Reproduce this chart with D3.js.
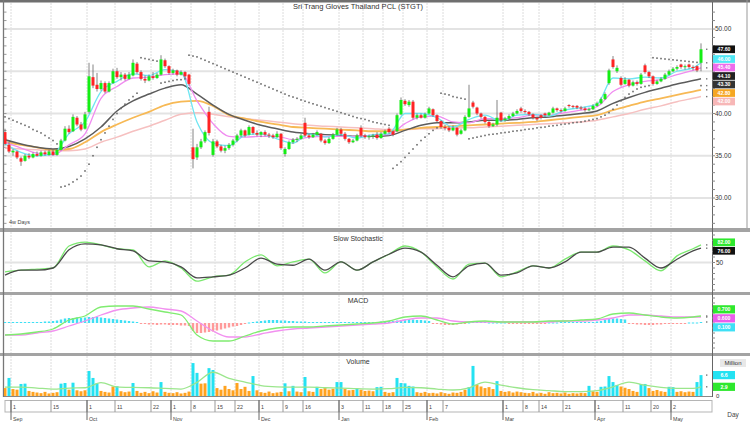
<!DOCTYPE html>
<html><head><meta charset="utf-8">
<script src="https://cdn.jsdelivr.net/npm/d3@7"></script>
<style>
html,body{margin:0;padding:0;background:#fff;}
svg{display:block;font-family:"Liberation Sans",Arial,sans-serif;}
</style></head><body>
<svg id="c" width="750" height="422"></svg>
<script>
const title = "Sri Trang Gloves Thailand PCL (STGT)";
const legendNote = "4w Days";

const open = [37.8,36.3,35.4,35.5,34.7,34.4,35.0,34.8,35.2,35.0,
35.4,35.1,35.5,35.1,35.7,36.8,38.2,37.9,39.5,38.7,
38.2,40.2,44.3,43.4,42.9,43.6,42.6,43.6,45.0,44.3,
44.6,44.1,44.5,45.9,44.9,44.1,43.9,44.4,44.2,44.6,
46.3,45.6,44.8,45.1,44.6,44.9,44.6,36.0,34.8,36.0,
36.7,40.2,35.1,36.7,36.1,35.6,35.9,36.3,36.8,37.4,
38.0,37.5,38.4,37.7,37.5,37.8,37.5,37.4,37.2,37.6,
35.2,35.8,36.6,36.9,37.0,38.9,37.4,37.2,37.5,37.6,
36.8,36.5,37.0,37.5,38.1,37.6,37.0,36.6,36.8,38.3,
37.4,37.2,37.3,37.5,37.1,37.6,38.2,37.9,37.9,39.9,
41.5,41.0,41.4,39.5,39.8,39.5,40.0,40.5,39.8,39.1,
38.4,38.3,38.0,38.3,37.6,38.0,39.6,41.3,40.7,40.0,
39.6,39.0,38.5,38.7,40.1,39.2,39.4,39.7,40.0,40.6,
40.3,40.2,39.9,39.5,39.8,40.0,39.8,40.1,40.6,40.4,
40.3,41.0,40.9,40.9,40.7,40.6,40.4,40.5,40.9,41.2,
41.7,43.6,46.4,45.0,44.2,43.5,44.0,43.3,43.7,43.5,
45.7,44.9,44.4,43.5,43.8,44.1,44.6,45.0,45.3,45.8,
45.5,45.8,45.5,45.6,46.0];
const high = [38.2,36.6,35.8,35.6,34.9,35.2,35.3,35.4,35.5,35.6,
35.6,35.7,35.7,35.9,37.0,38.5,38.6,39.9,39.7,39.0,
40.2,46.0,45.8,44.8,43.9,43.8,43.8,45.3,45.4,44.9,
44.8,44.9,46.4,46.1,45.1,44.5,44.6,44.9,44.8,46.9,
46.5,45.7,45.3,45.2,45.1,45.0,44.7,38.2,36.4,37.0,
38.0,40.8,37.0,36.9,36.3,36.2,36.5,37.0,37.6,38.2,
38.1,38.6,38.5,38.0,37.9,38.0,37.7,37.6,37.9,37.7,
36.0,36.8,37.1,37.2,37.6,39.5,37.6,37.7,38.0,37.7,
37.0,37.2,37.7,38.3,38.3,37.8,37.1,37.0,37.6,38.6,
37.6,37.5,37.6,37.8,37.8,38.1,38.4,38.0,40.0,41.9,
41.7,41.6,41.6,40.0,40.0,40.1,40.8,40.6,39.9,39.2,
38.7,38.5,38.6,38.4,38.2,39.8,43.4,41.5,40.8,40.1,
39.7,39.1,38.9,41.6,40.2,39.6,39.9,40.2,40.5,40.8,
40.5,40.3,40.0,39.6,39.9,40.1,40.2,40.8,40.7,40.6,
40.8,41.1,41.0,41.0,40.9,40.8,40.7,41.1,41.4,41.9,
42.5,45.3,46.8,45.7,44.4,44.3,44.1,43.9,43.9,44.8,
45.9,45.0,44.5,44.0,44.3,44.8,45.2,45.5,45.7,45.9,
45.8,45.9,45.7,45.7,48.3];
const low = [36.2,35.3,35.0,34.6,33.8,34.3,34.6,34.7,34.9,34.9,
35.0,35.0,35.0,35.0,35.6,36.7,37.6,37.8,38.5,37.9,
38.1,40.0,43.0,42.6,42.7,42.4,42.5,43.5,44.1,43.9,
43.9,44.0,44.4,44.7,43.9,43.6,43.8,44.0,44.1,44.5,
45.4,44.6,44.6,44.4,44.5,44.2,43.3,33.5,34.5,35.8,
36.5,37.4,34.9,35.9,35.4,35.3,35.7,36.1,36.6,37.2,
37.2,37.4,37.5,37.3,37.2,37.3,37.1,37.0,37.1,35.7,
34.9,35.7,36.4,36.6,36.9,37.2,37.0,37.1,37.4,36.6,
36.3,36.4,36.9,37.4,37.4,36.8,36.4,36.5,36.7,37.2,
37.0,36.9,37.0,36.9,37.0,37.5,37.6,37.3,37.8,39.8,
40.9,40.8,39.3,39.3,39.4,39.4,39.9,39.6,38.9,38.2,
38.0,37.8,37.9,37.3,37.5,37.9,39.5,40.6,39.8,39.4,
38.8,38.3,38.4,38.5,39.0,39.0,39.3,39.6,39.9,40.1,
40.0,39.7,39.3,39.1,39.3,39.6,39.7,40.0,40.2,40.1,
40.2,40.7,40.6,40.5,40.4,40.2,40.3,40.4,40.8,41.1,
41.6,43.4,45.3,44.8,43.2,43.4,43.1,43.2,43.3,43.4,
44.7,44.2,43.3,43.4,43.7,44.0,44.5,44.9,45.1,45.3,
45.2,45.3,45.1,44.9,45.0];
const close = [36.4,35.5,35.6,34.8,34.3,35.0,34.8,35.2,35.0,35.4,
35.2,35.5,35.1,35.7,36.8,38.2,37.8,39.6,38.7,38.1,
39.9,44.4,43.3,42.9,43.6,42.6,43.6,45.0,44.3,44.6,
44.1,44.6,46.0,44.9,44.1,43.9,44.4,44.2,44.6,46.4,
45.6,44.8,45.1,44.6,44.9,44.4,43.5,34.6,36.0,36.7,
37.8,37.7,36.7,36.1,35.6,35.9,36.3,36.8,37.4,38.0,
37.4,38.4,37.7,37.5,37.8,37.5,37.4,37.2,37.6,35.9,
35.8,36.6,36.9,37.0,37.4,37.4,37.2,37.5,37.8,36.8,
36.5,37.0,37.5,38.1,37.6,37.0,36.6,36.8,37.4,37.4,
37.2,37.3,37.4,37.1,37.6,37.9,37.8,37.5,39.8,41.6,
41.1,41.4,39.5,39.8,39.5,39.9,40.6,39.8,39.1,38.4,
38.3,38.0,38.3,37.5,38.0,39.6,40.6,40.8,40.0,39.6,
39.0,38.5,38.7,39.5,39.2,39.4,39.7,40.0,40.3,40.3,
40.2,39.9,39.5,39.3,39.5,39.8,40.1,40.6,40.4,40.3,
40.6,40.9,40.8,40.7,40.6,40.4,40.5,40.9,41.2,41.7,
42.3,45.1,45.5,45.4,43.4,44.0,43.3,43.7,43.5,44.6,
44.9,44.4,43.5,43.8,44.1,44.6,45.0,45.3,45.5,45.5,
45.6,45.5,45.4,45.1,47.6];
const volume = [2.5,5.7,2.2,2.0,3.8,3.9,1.6,1.3,1.1,0.9,
1.3,0.8,1.0,1.2,3.9,4.1,2.0,4.2,1.8,1.5,
1.8,7.9,5.7,4.0,1.6,1.3,1.1,3.0,3.1,1.5,
1.2,1.4,4.1,1.6,1.0,1.3,0.9,1.5,1.1,4.4,
1.3,1.0,0.9,1.2,0.8,1.0,1.4,10.4,7.3,3.9,
4.0,8.8,8.2,2.5,2.0,3.2,2.2,1.8,4.1,2.2,
2.9,1.6,6.3,1.8,1.2,1.0,1.4,0.9,1.1,1.3,
4.0,1.5,3.2,1.4,1.2,6.0,1.5,1.3,2.9,2.2,
2.5,2.0,2.3,4.4,4.4,2.2,1.8,1.9,2.4,2.0,
1.6,1.7,1.5,2.8,2.9,1.3,1.0,1.2,5.7,4.1,
4.0,3.2,3.0,1.2,1.0,1.3,0.9,1.0,0.8,1.2,
0.9,0.7,1.1,1.0,1.3,2.0,2.8,9.5,3.5,3.0,
2.5,2.8,2.2,4.7,1.6,1.3,1.5,1.1,1.4,1.2,
1.0,0.9,1.3,0.8,1.0,0.7,1.2,0.9,1.0,0.8,
1.1,0.7,0.9,0.8,1.0,0.9,3.2,1.5,1.3,2.9,
3.0,6.3,4.4,3.5,3.0,2.6,2.2,1.6,1.3,3.8,
3.8,2.5,1.6,1.9,1.5,1.3,2.9,2.8,1.3,1.5,
1.2,1.4,1.3,4.4,6.6];
// Parabolic SAR, one dot per bar
const sar = [39.6,39.4,39.2,39.0,38.8,38.6,38.4,38.1,37.9,37.7,37.4,37.1,36.8,36.4,
31.3,31.4,31.6,31.9,32.2,32.6,33.2,34.0,35.0,36.0,36.9,37.7,38.5,39.3,40.0,40.6,41.1,41.6,42.0,42.4,
46.6,46.5,46.4,46.3,46.2,
43.6,43.7,43.8,43.9,44.0,44.0,44.1,46.9,
46.8,46.7,46.5,46.3,46.1,45.9,45.7,45.5,45.3,45.1,44.9,44.7,44.5,44.3,44.1,43.9,43.7,43.5,43.3,43.1,
42.9,42.7,42.5,42.3,42.1,41.95,41.8,41.6,41.45,41.3,41.15,41.0,40.85,40.7,40.55,40.4,40.25,40.1,39.95,39.8,
39.65,39.5,39.4,39.3,39.15,39.0,38.9,38.8,38.7,38.6,
33.5,33.9,34.3,34.8,35.3,35.8,36.3,36.8,37.2,37.6,38.0,38.3,
42.4,42.3,42.2,42.0,41.9,41.8,41.7,
37.0,37.1,37.2,37.3,37.4,37.5,37.55,37.6,37.7,37.75,37.8,37.9,37.95,38.0,38.1,38.15,38.2,38.3,38.35,38.4,
38.5,38.55,38.6,38.7,38.75,38.8,38.9,38.95,39.0,39.1,39.2,39.3,39.4,39.6,39.8,40.1,40.5,41.0,41.5,41.9,
42.3,42.6,42.9,43.1,43.2,43.3,
46.6,46.55,46.5,46.45,46.4,46.35,46.3,46.25,46.2,46.15,46.1,46.05,
43.3];

// indicator lines, read every 4th bar
const sampleIdx = [0,4,8,12,16,20,24,28,32,36,40,44,48,52,56,60,64,68,72,76,80,84,88,92,96,100,104,108,112,116,120,124,128,132,136,140,144,148,152,156,160,164,168,172,174];
const maCyan = [36.4,35.4,35.0,35.2,37.6,39.0,42.6,43.8,44.7,44.5,45.2,44.9,39.0,36.5,36.2,37.4,37.6,37.0,36.5,37.6,37.2,37.5,37.1,37.5,37.6,40.0,40.0,39.5,38.4,39.3,39.8,39.1,39.8,39.9,39.7,40.4,40.7,41.1,44.2,44.1,44.3,44.2,45.0,45.4,46.0];
const maMagenta = [36.6,35.9,35.3,35.1,36.3,37.6,41.8,43.2,44.2,44.3,44.6,44.7,41.5,38.8,37.3,37.2,37.3,37.3,36.9,37.2,37.3,37.3,37.3,37.4,37.5,38.8,39.6,39.7,39.0,38.9,39.4,39.4,39.5,39.8,39.8,40.1,40.4,40.8,42.6,43.4,43.8,44.0,44.6,45.1,45.4];
const maGray = [36.9,36.4,36.0,35.8,36.1,37.0,38.4,40.3,41.5,42.3,43.0,43.4,42.3,41.0,39.9,39.2,38.6,38.2,37.8,37.6,37.5,37.4,37.3,37.3,37.4,38.0,38.6,38.9,38.9,39.0,39.2,39.2,39.3,39.5,39.6,39.8,40.0,40.3,41.2,41.9,42.5,43.0,43.5,43.9,44.1];
const maOrange = [36.6,36.3,36.0,35.7,35.8,36.6,37.8,38.7,39.5,40.2,41.0,41.4,41.5,40.9,39.8,39.4,39.0,38.7,38.4,38.3,38.2,38.1,38.0,37.9,37.9,38.1,38.3,38.4,38.5,38.6,38.7,38.8,38.9,39.0,39.2,39.4,39.6,39.8,40.4,40.9,41.4,41.8,42.2,42.6,42.8];
const maPink = [35.9,35.8,35.7,35.6,35.6,35.8,36.6,37.2,37.9,38.5,39.2,39.9,40.1,39.9,39.6,39.4,39.2,39.0,38.8,38.6,38.5,38.4,38.3,38.2,38.1,38.1,38.2,38.2,38.3,38.3,38.4,38.5,38.6,38.7,38.8,38.9,39.0,39.2,39.6,40.0,40.5,40.9,41.4,41.8,42.0];
const stochK = [33,36,38,40,80,87,82,75,73,42,53,40,16,24,27,51,64,44,51,56,31,51,36,51,65,80,69,42,20,47,49,24,33,44,40,56,69,69,80,73,53,35,62,75,82];
const stochD = [27,36,36,40,73,84,82,75,71,53,51,42,22,24,27,40,58,47,45,56,36,51,36,51,65,76,69,45,24,44,49,27,31,44,40,51,69,69,78,78,58,40,56,71,76];
const macdLine = [-1.2,-1.1,-0.9,-0.6,0.3,0.7,1.6,1.7,1.7,1.4,1.1,0.8,-1.2,-1.8,-1.8,-1.3,-0.8,-0.5,-0.4,-0.4,-0.3,-0.2,-0.1,0.0,0.2,0.6,0.7,0.3,-0.1,0.1,0.2,0.1,0.1,0.1,0.2,0.2,0.3,0.4,0.9,1.0,0.8,0.6,0.5,0.6,0.7];
const macdSignal = [-1.2,-1.2,-1.0,-0.8,-0.3,0.2,0.8,1.3,1.5,1.6,1.4,1.2,0.2,-0.8,-1.4,-1.4,-1.1,-0.8,-0.6,-0.5,-0.4,-0.3,-0.2,-0.1,0.0,0.3,0.5,0.5,0.2,0.1,0.1,0.1,0.1,0.1,0.1,0.2,0.2,0.3,0.5,0.8,0.8,0.7,0.6,0.6,0.6];
const volMA = [2.8,2.8,2.5,2.2,2.5,2.6,4.2,2.9,2.7,2.6,2.4,2.2,4.3,7.5,5.6,4.4,3.3,2.9,2.8,2.8,2.6,2.5,2.3,2.2,2.3,2.7,2.6,2.2,1.9,2.6,4.4,3.4,2.6,2.0,1.7,1.4,1.4,1.7,2.9,4.4,3.4,2.7,2.4,2.4,2.9];
// MACD histogram, one per bar
const macdHist = [0.1,0.1,0.1,0.1,0.1,0.1,0.1,0.1,0.1,0.1,0.15,0.15,0.2,
0.25,0.35,0.45,0.5,0.5,0.55,0.5,0.55,
0.6,0.6,0.6,0.55,0.5,0.45,0.4,0.35,
0.3,0.25,0.2,0.15,0.1,
-0.05,-0.1,-0.15,-0.15,-0.2,-0.15,-0.15,-0.2,-0.2,-0.2,-0.25,-0.25,-0.3,
-0.8,-1.0,-1.0,-0.95,-0.9,-0.85,-0.75,-0.65,-0.55,-0.45,-0.35,-0.3,
-0.2,-0.1,0.05,0.1,
0.15,0.2,0.25,0.3,0.3,0.3,0.25,0.25,0.2,0.2,0.15,0.15,0.15,
0.1,0.1,0.1,0.1,0.1,0.1,0.1,0.1,0.1,0.1,0.1,0.1,0.1,0.1,0.1,
0.1,0.1,0.1,0.15,0.15,0.2,0.2,0.25,0.3,
0.35,0.4,0.35,0.3,0.3,0.25,0.2,
-0.05,-0.1,-0.15,-0.2,-0.2,-0.2,-0.15,-0.1,-0.05,
0.05,0.1,0.1,0.1,0.1,0.05,0.05,0.05,0.05,0.05,
-0.05,-0.05,-0.05,-0.05,-0.05,-0.05,-0.05,-0.05,-0.05,-0.05,
0.05,0.05,0.05,0.1,0.1,0.1,0.1,0.1,0.1,0.1,0.1,0.1,
0.15,0.2,0.3,0.4,0.45,0.45,0.4,0.35,
-0.05,-0.1,-0.15,-0.15,-0.2,-0.2,-0.2,-0.15,-0.15,-0.1,-0.1,-0.1,-0.05,-0.05,-0.05,
0.05,0.05,0.05,0.1];

const priceTicks = [30,35,40,45,50];
const tickIdx = [2,12,21,28,37,42,47,53,58,64,70,75,84,90,95,100,106,110,125,130,134,140,148,155,162,167];
const tickLabels = ["1","15","1","11","22","1","8","15","22","1","9","16","3","11","18","25","1","7","1","8","14","21","1","11","20","2"];
const monthIdx = [2,21,42,64,84,106,125,148,167];
const monthLabels = ["Sep","Oct","Nov","Dec","Jan","Feb","Mar","Apr","May"];

const svg = d3.select("#c");
const N = close.length;
const last = N - 1;
const L = 4, R = 712;
const P = {main:[3,228], st:[232,292], mc:[295,353], vo:[356,396]};

const x = d3.scaleLinear().domain([0,177]).range([5,713]);
const yP = d3.scaleLinear().domain([30,50]).range([198,29]);
const yS = d3.scaleLinear().domain([0,100]).range([290,235]);
const yM = d3.scaleLinear().domain([-1,1]).range([333,313]);
const yV = d3.scaleLinear().domain([0,12]).range([396,358]);
const maAt = d3.scaleLinear().domain(sampleIdx).range(volMA);

const defs = svg.append("defs");
Object.entries(P).forEach(([k,[t,b]])=>{
  defs.append("clipPath").attr("id","clip-"+k).append("rect").attr("x",L).attr("y",t).attr("width",R-L).attr("height",b-t);
});

// frame & separators
svg.append("rect").attr("x",0).attr("y",0).attr("width",750).attr("height",2.5).attr("fill","#6f6f6f");
[[228,4],[292,3],[353,3]].forEach(([y,h])=>svg.append("rect").attr("x",0).attr("y",y).attr("width",750).attr("height",h).attr("fill","#a3a3a3"));
svg.append("line").attr("x1",L).attr("x2",R).attr("y1",396.5).attr("y2",396.5).attr("stroke","#888");
svg.append("line").attr("x1",3.5).attr("x2",3.5).attr("y1",0).attr("y2",397).attr("stroke","#777").attr("stroke-width",1.3);
svg.append("line").attr("x1",747).attr("x2",747).attr("y1",0).attr("y2",228).attr("stroke","#999");

// vertical grid
Object.entries(P).forEach(([k,[t,b]])=>{
  svg.append("g").selectAll("line").data(tickIdx).join("line")
    .attr("x1",d=>x(d)-2).attr("x2",d=>x(d)-2).attr("y1",t).attr("y2",b)
    .attr("stroke","#dcdcdc").attr("stroke-dasharray","2,1");
});
// horizontal grid
svg.append("g").selectAll("line").data(priceTicks).join("line")
  .attr("x1",L).attr("x2",R).attr("y1",d=>yP(d)).attr("y2",d=>yP(d))
  .attr("stroke","#e3e3e3").attr("stroke-width",2);
svg.append("line").attr("x1",L).attr("x2",R).attr("y1",yS(50)).attr("y2",yS(50)).attr("stroke","#e3e3e3").attr("stroke-width",2);

// right axis line
svg.append("line").attr("x1",712.5).attr("x2",712.5).attr("y1",2).attr("y2",397).attr("stroke","#666");

// minor ticks
svg.append("g").selectAll("line").data(d3.range(27,53)).join("line")
  .attr("x1",712).attr("x2",715).attr("y1",d=>yP(d)).attr("y2",d=>yP(d)).attr("stroke","#888");
svg.append("g").selectAll("line").data(d3.range(27,53)).join("line")
  .attr("x1",4).attr("x2",6.5).attr("y1",d=>yP(d)).attr("y2",d=>yP(d)).attr("stroke","#999");
svg.append("g").selectAll("line").data(d3.range(0,101,10)).join("line")
  .attr("x1",712).attr("x2",715).attr("y1",d=>yS(d)).attr("y2",d=>yS(d)).attr("stroke","#888");
svg.append("g").selectAll("line").data(d3.range(-2.5,3,0.5)).join("line")
  .attr("x1",712).attr("x2",715).attr("y1",d=>yM(d)).attr("y2",d=>yM(d)).attr("stroke","#888");

// ----- main panel -----
const gMain = svg.append("g").attr("clip-path","url(#clip-main)");
const lineP = arr => d3.line().x((d,k)=>x(sampleIdx[k])).y(d=>yP(d)).curve(d3.curveMonotoneX)(arr);
[[maPink,"#f6c0c0",1.5],[maOrange,"#f7b955",1.8],[maGray,"#5c5c5c",1.5],[maMagenta,"#f08cf0",1.3],[maCyan,"#6fe6f2",1.3]]
 .forEach(([a,c,w])=>gMain.append("path").attr("d",lineP(a)).attr("fill","none").attr("stroke",c).attr("stroke-width",w));

const idx = d3.range(N);
gMain.append("g").selectAll("line").data(idx).join("line")
  .attr("x1",i=>x(i)).attr("x2",i=>x(i)).attr("y1",i=>yP(high[i])).attr("y2",i=>yP(low[i]))
  .attr("stroke","#666").attr("stroke-width",0.8);
gMain.append("g").selectAll("rect").data(idx).join("rect")
  .attr("x",i=>x(i)-1.5).attr("width",3)
  .attr("y",i=>yP(Math.max(open[i],close[i])))
  .attr("height",i=>Math.max(1,Math.abs(yP(open[i])-yP(close[i]))))
  .attr("fill",i=>close[i]>=open[i]?"#14ee14":"#ff2424");
gMain.append("g").selectAll("rect").data(idx.filter(i=>sar[i]!=null)).join("rect")
  .attr("x",i=>x(i)-0.8).attr("y",i=>yP(sar[i])-0.8).attr("width",1.6).attr("height",1.6).attr("fill","#6a6a6a");

svg.append("text").attr("x",358).attr("y",9).attr("text-anchor","middle").attr("font-size",7.5).attr("fill","#333").text(title);
svg.append("text").attr("x",9).attr("y",224).attr("font-size",5.5).attr("fill","#444").text(legendNote);

function layoutBoxes(items, gap){
  items.sort((a,b)=>a.y0-b.y0);
  items.forEach(d=>d.y=d.y0);
  for(let it=0; it<500; it++){
    let moved=false;
    for(let k=1;k<items.length;k++){
      const ov = items[k-1].y + gap - items[k].y;
      if(ov>0.001){ items[k-1].y -= ov/2+0.001; items[k].y += ov/2+0.001; moved=true; }
    }
    if(!moved) break;
  }
  return items;
}
function drawBoxes(items, gap){
  const g = svg.append("g");
  items.forEach(d=>{
    g.append("rect").attr("x",706).attr("y",d.y0-0.7).attr("width",1.4).attr("height",1.4).attr("fill","#777");
    g.append("rect").attr("x",713).attr("y",d.y-gap/2+0.4).attr("width",22).attr("height",gap-0.8).attr("fill",d.fill);
    g.append("text").attr("x",724).attr("y",d.y+1.8).attr("text-anchor","middle").attr("font-size",5.2).attr("font-weight","bold").attr("fill",d.tc).text(d.t);
  });
}
const lastS = sampleIdx.length-1;
const mainBoxes = layoutBoxes([
  {y0:yP(close[last]),fill:"#111",tc:"#fff",t:close[last].toFixed(2)},
  {y0:yP(maCyan[lastS]),fill:"#4fe8f5",tc:"#fff",t:maCyan[lastS].toFixed(2)},
  {y0:yP(maMagenta[lastS]),fill:"#ec6cec",tc:"#fff",t:maMagenta[lastS].toFixed(2)},
  {y0:yP(maGray[lastS]),fill:"#222",tc:"#fff",t:maGray[lastS].toFixed(2)},
  {y0:yP(sar[last]),fill:"#333",tc:"#fff",t:sar[last].toFixed(2)},
  {y0:yP(maOrange[lastS]),fill:"#f5a623",tc:"#fff",t:maOrange[lastS].toFixed(2)},
  {y0:yP(maPink[lastS]),fill:"#f7b7b7",tc:"#fff",t:maPink[lastS].toFixed(2)}
],8.5);
// price axis labels that are not covered by the value boxes
const visibleTicks = priceTicks.filter(v=>mainBoxes.every(b=>Math.abs(b.y-yP(v))>8));
svg.append("g").selectAll("text").data(visibleTicks).join("text")
  .attr("x",715).attr("y",d=>yP(d)+2.4).attr("font-size",6.5).attr("fill","#333").text(d=>d.toFixed(2));
drawBoxes(mainBoxes,8.5);

// ----- stochastic -----
const gS = svg.append("g").attr("clip-path","url(#clip-st)");
const lineS = arr => d3.line().x((d,k)=>x(sampleIdx[k])).y(d=>yS(d)).curve(d3.curveMonotoneX)(arr);
gS.append("path").attr("d",lineS(stochK)).attr("fill","none").attr("stroke","#7ae86e").attr("stroke-width",1.3);
gS.append("path").attr("d",lineS(stochD)).attr("fill","none").attr("stroke","#4a4a4a").attr("stroke-width",1.3);
svg.append("text").attr("x",358).attr("y",241).attr("text-anchor","middle").attr("font-size",7).attr("fill","#333").text("Slow Stochastic");
svg.append("text").attr("x",716).attr("y",yS(50)+2.4).attr("font-size",6.5).attr("fill","#333").text("50");
drawBoxes(layoutBoxes([
  {y0:yS(stochK[lastS]),fill:"#2ee82e",tc:"#fff",t:stochK[lastS].toFixed(2)},
  {y0:yS(stochD[lastS]),fill:"#111",tc:"#fff",t:stochD[lastS].toFixed(2)}
],8.5),8.5);

// ----- MACD -----
const gM = svg.append("g").attr("clip-path","url(#clip-mc)");
gM.append("g").selectAll("rect").data(idx).join("rect")
  .attr("x",i=>x(i)-1.2).attr("width",2.4)
  .attr("y",i=>Math.min(yM(0),yM(macdHist[i])))
  .attr("height",i=>Math.max(1,Math.abs(yM(macdHist[i])-yM(0))))
  .attr("fill",i=>macdHist[i]>=0?"#3fe0f5":"#ff9a9a");
const lineM = arr => d3.line().x((d,k)=>x(sampleIdx[k])).y(d=>yM(d)).curve(d3.curveMonotoneX)(arr);
gM.append("path").attr("d",lineM(macdSignal)).attr("fill","none").attr("stroke","#f290f0").attr("stroke-width",1.3);
gM.append("path").attr("d",lineM(macdLine)).attr("fill","none").attr("stroke","#80ec70").attr("stroke-width",1.3);
svg.append("text").attr("x",358).attr("y",303).attr("text-anchor","middle").attr("font-size",7).attr("fill","#333").text("MACD");
drawBoxes(layoutBoxes([
  {y0:yM(macdLine[lastS]),fill:"#2ee82e",tc:"#fff",t:macdLine[lastS].toFixed(3)},
  {y0:yM(macdSignal[lastS]),fill:"#ec5cec",tc:"#fff",t:macdSignal[lastS].toFixed(3)},
  {y0:yM(macdHist[last]),fill:"#3fe0f5",tc:"#fff",t:macdHist[last].toFixed(3)}
],9),9);

// ----- Volume -----
const gV = svg.append("g").attr("clip-path","url(#clip-vo)");
gV.append("g").selectAll("rect").data(idx).join("rect")
  .attr("x",i=>x(i)-1.5).attr("width",3)
  .attr("y",i=>yV(volume[i])).attr("height",i=>yV(0)-yV(volume[i]))
  .attr("fill",i=>volume[i]>maAt(i)?"#24e2f2":"#ffa21f");
gV.append("path").attr("d",d3.line().x((d,k)=>x(sampleIdx[k])).y(d=>yV(d)).curve(d3.curveMonotoneX)(volMA))
  .attr("fill","none").attr("stroke","#9be68c").attr("stroke-width",1.3);
svg.append("text").attr("x",358).attr("y",364).attr("text-anchor","middle").attr("font-size",7).attr("fill","#333").text("Volume");
svg.append("rect").attr("x",720).attr("y",359).attr("width",26).attr("height",8).attr("fill","#e8e8e8");
svg.append("text").attr("x",733).attr("y",365.2).attr("text-anchor","middle").attr("font-size",6).attr("fill","#333").text("Million");
svg.append("text").attr("x",716).attr("y",398).attr("font-size",6).attr("fill","#333").text("0");
drawBoxes(layoutBoxes([
  {y0:yV(volume[last]),fill:"#24e2f2",tc:"#fff",t:volume[last].toFixed(1)},
  {y0:yV(volMA[lastS]),fill:"#2ee82e",tc:"#fff",t:volMA[lastS].toFixed(1)}
],9),9);

// ----- x axis -----
svg.append("rect").attr("x",5).attr("y",400.5).attr("width",707).attr("height",11.5).attr("fill","none").attr("stroke","#b5b5b5");
svg.append("g").selectAll("line").data(tickIdx).join("line")
  .attr("x1",d=>x(d)-2).attr("x2",d=>x(d)-2).attr("y1",400).attr("y2",412).attr("stroke","#999");
svg.append("g").selectAll("text").data(tickIdx).join("text")
  .attr("x",d=>x(d)).attr("y",408.5).attr("font-size",5.3).attr("fill","#444").text((d,k)=>tickLabels[k]);
svg.append("g").selectAll("line").data(monthIdx).join("line")
  .attr("x1",d=>x(d)-2).attr("x2",d=>x(d)-2).attr("y1",400).attr("y2",420).attr("stroke","#666");
svg.append("g").selectAll("text").data(monthIdx).join("text")
  .attr("x",d=>x(d)).attr("y",420.5).attr("font-size",5.3).attr("fill","#444").text((d,k)=>monthLabels[k]);
svg.append("text").attr("x",733).attr("y",417).attr("text-anchor","middle").attr("font-size",6.5).attr("fill","#444").text("Day");
</script>
</body></html>
